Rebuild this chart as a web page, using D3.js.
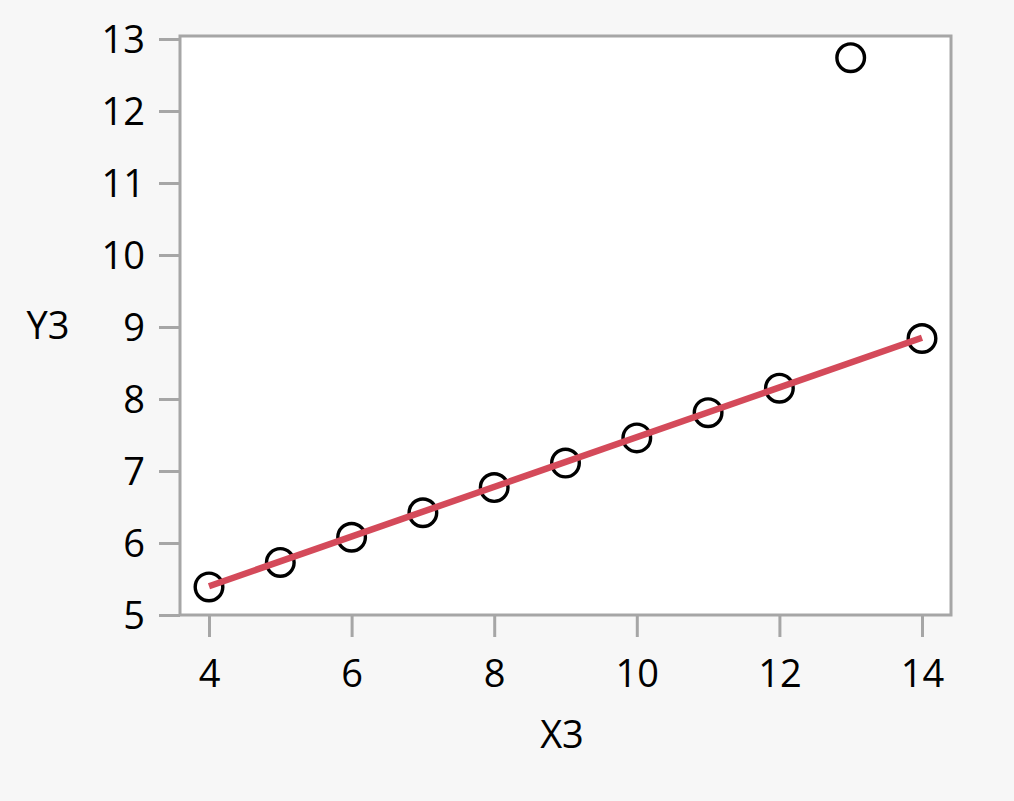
<!DOCTYPE html>
<html>
<head>
<meta charset="utf-8">
<script src="https://cdn.jsdelivr.net/npm/d3@7"></script>
<style>
html,body{margin:0;padding:0;background:#f7f7f7;}
svg{display:block;}
text{font-family:"Open Sans","Noto Sans",sans-serif;fill:#000;}
</style>
</head>
<body>
<svg id="chart" width="1014" height="801"></svg>
<script>
const xValues = [10, 8, 13, 9, 11, 14, 6, 4, 12, 7, 5];
const yValues = [7.46, 6.77, 12.74, 7.11, 7.81, 8.84, 6.08, 5.39, 8.15, 6.42, 5.73];
const fitX = [4, 14];
const fitY = [5.40, 8.85];
const xTicks = [4, 6, 8, 10, 12, 14];
const yTicks = [5, 6, 7, 8, 9, 10, 11, 12, 13];

const svg = d3.select("#chart");
const frame = {left: 180, right: 951, top: 36, bottom: 615};
const x = d3.scaleLinear().domain([4, 14]).range([209, 922]);
const y = d3.scaleLinear().domain([5, 13]).range([615, 39]);

svg.append("rect").attr("x", frame.left).attr("y", frame.top)
  .attr("width", frame.right - frame.left).attr("height", frame.bottom - frame.top)
  .attr("fill", "#fff").attr("stroke", "#a6a6a6").attr("stroke-width", 3);

const xAxis = svg.append("g").attr("transform", `translate(0,${frame.bottom})`)
  .call(d3.axisBottom(x).tickValues(xTicks).tickSize(22).tickPadding(14).tickSizeOuter(0));
xAxis.select(".domain").remove();
xAxis.selectAll("line").attr("stroke", "#a6a6a6").attr("stroke-width", 3);
xAxis.selectAll("text").attr("font-size", 38).attr("fill", "#000").attr("dy", "0.95em")
  .style("font-family", '"Open Sans","Noto Sans",sans-serif');

const yAxis = svg.append("g").attr("transform", `translate(${frame.left},0)`)
  .call(d3.axisLeft(y).tickValues(yTicks).tickSize(21).tickPadding(14).tickSizeOuter(0));
yAxis.select(".domain").remove();
yAxis.selectAll("line").attr("stroke", "#a6a6a6").attr("stroke-width", 3);
yAxis.selectAll("text").attr("font-size", 38).attr("fill", "#000").attr("dy", "0.35em")
  .style("font-family", '"Open Sans","Noto Sans",sans-serif');

const pts = xValues.map((v, i) => ({x: v, y: yValues[i]}));
svg.append("g").selectAll("circle").data(pts).join("circle")
  .attr("cx", d => x(d.x)).attr("cy", d => y(d.y)).attr("r", 13.8)
  .attr("fill", "none").attr("stroke", "#000").attr("stroke-width", 3.4);

const fit = fitX.map((v, i) => [v, fitY[i]]);
svg.append("path").datum(fit)
  .attr("d", d3.line().x(d => x(d[0])).y(d => y(d[1])))
  .attr("fill", "none").attr("stroke", "#d44a5a").attr("stroke-width", 6.5);

svg.append("text").attr("x", 562).attr("y", 748).attr("text-anchor", "middle")
  .attr("font-size", 38).text("X3");
svg.append("text").attr("x", 48).attr("y", 339).attr("text-anchor", "middle")
  .attr("font-size", 38).text("Y3");
</script>
</body>
</html>
